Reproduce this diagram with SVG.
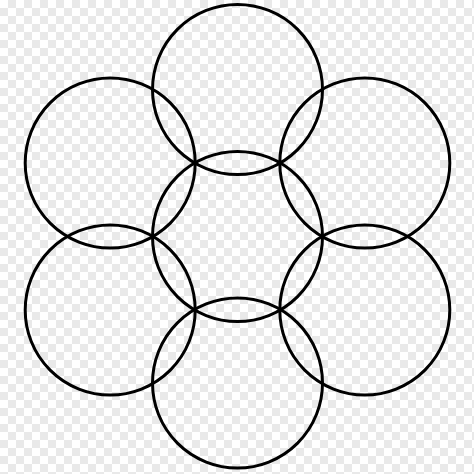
<svg xmlns="http://www.w3.org/2000/svg" width="474" height="474" viewBox="0 0 474 474">
  <defs>
    <pattern id="checker" x="0" y="0" width="16" height="16" patternUnits="userSpaceOnUse">
      <rect width="16" height="16" fill="#ffffff"/>
      <rect x="8" y="0" width="8" height="8" fill="#e9e9e9"/>
      <rect x="0" y="8" width="8" height="8" fill="#e9e9e9"/>
    </pattern>
  </defs>
  <style>
    .ring { fill: none; stroke: #000000; stroke-width: 3; }
  </style>
  <rect width="474" height="474" fill="url(#checker)"/>
  <g id="center"><circle class="ring" cx="237.5" cy="236.5" r="85"/></g>
  <g id="top"><circle class="ring" cx="237.5" cy="89.5" r="85"/></g>
  <g id="upper-left"><circle class="ring" cx="110.2" cy="163" r="85"/></g>
  <g id="upper-right"><circle class="ring" cx="364.8" cy="163" r="85"/></g>
  <g id="lower-left"><circle class="ring" cx="110.2" cy="310" r="85"/></g>
  <g id="lower-right"><circle class="ring" cx="364.8" cy="310" r="85"/></g>
  <g id="bottom"><circle class="ring" cx="237.5" cy="383" r="85"/></g>
  <g id="connectors"></g>
</svg>
